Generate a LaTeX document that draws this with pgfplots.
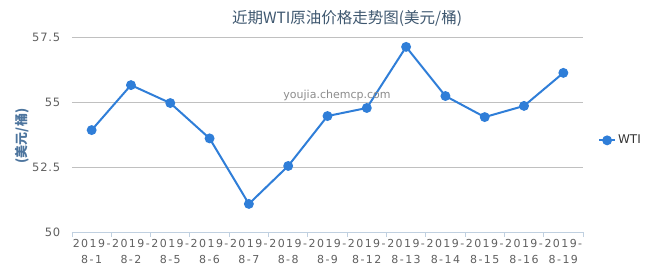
\documentclass[border=0pt]{standalone}
\usepackage{fontspec}
\setmainfont{DejaVu Sans}
\newfontfamily\cjk{Noto Sans CJK SC}
\newfontfamily\tickfont{DejaVu Sans}[LetterSpace=7]
\newfontfamily\xtickfont{DejaVu Sans}[LetterSpace=13]
\usepackage{pgfplots}
\pgfplotsset{compat=1.18}
\definecolor{line}{HTML}{2F7ED8}
\definecolor{gridc}{HTML}{C0C0C0}
\definecolor{axisc}{HTML}{C0D0E0}
\definecolor{tickc}{HTML}{606060}
\definecolor{titlec}{HTML}{3E576F}
\definecolor{ylabc}{HTML}{4D759E}
\begin{document}
\begin{tikzpicture}
\begin{axis}[
  name=ax,
  scale only axis,
  width=511bp, height=195bp,
  xmin=-0.5, xmax=12.5,
  ymin=50, ymax=57.5,
  ytick={50,52.5,55,57.5},
  /pgf/number format/assume math mode=true,
  yticklabel style={font=\tickfont\fontsize{11.5bp}{14bp}\selectfont, text=tickc, xshift=-4bp},
  ymajorgrids, grid style={gridc, line width=0.8bp},
  y axis line style={draw=none},
  ytick style={draw=none},
  axis x line*=bottom,
  x axis line style={axisc, line width=0.9bp},
  xtick={0,...,12},
  xticklabels={{2019-\\8-1},{2019-\\8-2},{2019-\\8-5},{2019-\\8-6},{2019-\\8-7},{2019-\\8-8},{2019-\\8-9},{2019-\\8-12},{2019-\\8-13},{2019-\\8-14},{2019-\\8-15},{2019-\\8-16},{2019-\\8-19}},
  xticklabel style={font=\xtickfont\fontsize{11bp}{15.5bp}\selectfont, text=tickc, align=center, yshift=0bp},
  major x tick style={draw=none},
  minor xtick={-0.5,0.5,...,12.5},
  minor x tick style={axisc, line width=0.9bp},
  tick align=outside,
  minor tick length=5bp,
  clip=false,
  legend style={draw=none, fill=none, at={(1,0.47)}, anchor=west, xshift=12bp,
    font=\fontsize{12bp}{14bp}\selectfont, text=black!80},
  legend image code/.code={\draw[mark repeat=2,mark phase=2] plot coordinates {(0cm,0cm) (0.28cm,0cm) (0.56cm,0cm)};},
]
\addplot[line, line width=2bp, mark=*, mark size=3.9bp, mark options={fill=line, draw=line}]
coordinates {
(0,53.92) (1,55.65) (2,54.96) (3,53.6) (4,51.08) (5,52.54) (6,54.46)
(7,54.77) (8,57.12) (9,55.23) (10,54.42) (11,54.85) (12,56.12)
};
\addlegendentry{WTI}
\end{axis}
\node[text=titlec, font=\cjk\fontsize{15.5bp}{18bp}\selectfont] at ([shift={(275bp,19bp)}]ax.north west) {近期WTI原油价格走势图(美元/桶)};
\node[rotate=90, text=ylabc, font=\cjk\bfseries\fontsize{13bp}{15bp}\selectfont] at ([shift={(-50bp,96bp)}]ax.south west) {(美元/桶)};
\node[text=black!45, font=\fontsize{11bp}{13bp}\selectfont] at ([shift={(265bp,137bp)}]ax.south west) {youjia.chemcp.com};
\pgfresetboundingbox
\path[use as bounding box] ([shift={(-72bp,-42bp)}]ax.south west) rectangle ([shift={(69bp,37bp)}]ax.north east);
\end{tikzpicture}
\end{document}
